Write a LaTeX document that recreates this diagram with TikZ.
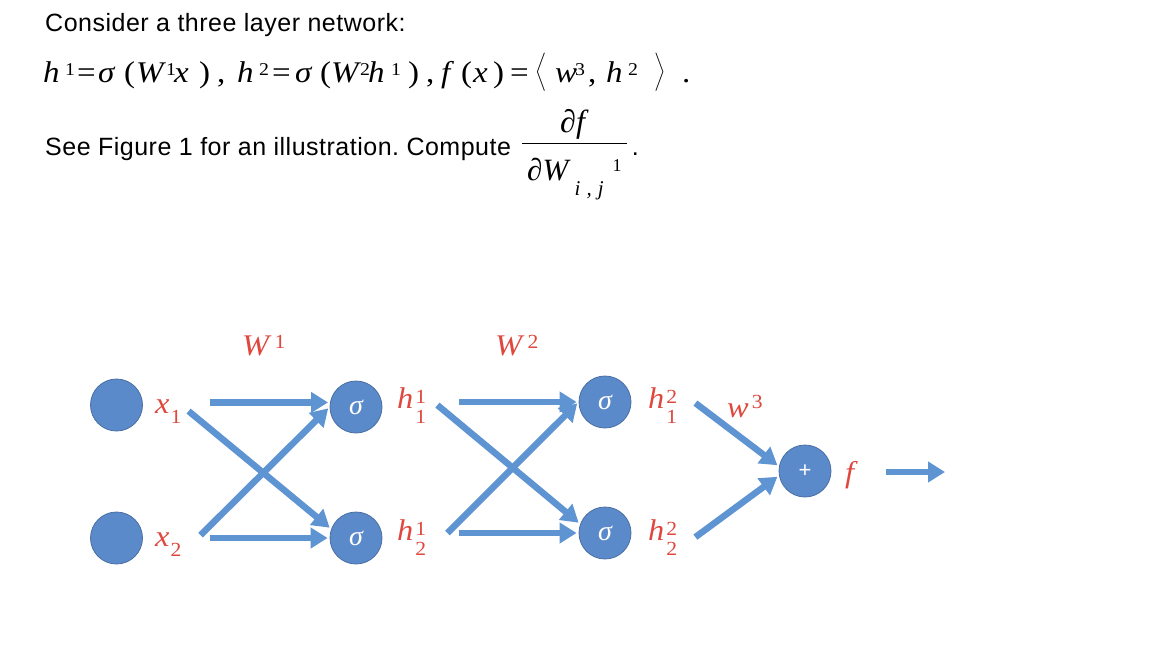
\RequirePackage{fix-cm}
\documentclass[tikz,border=0pt]{standalone}
\usepackage{fontspec}
\setmainfont{Liberation Serif}
\setsansfont{Liberation Sans}[LetterSpace=2]
\newfontfamily\eqfont{Liberation Serif}[FakeStretch=1.1]
\newfontfamily\labfont{Liberation Serif}[FakeStretch=1.08]
\usetikzlibrary{arrows.meta}
\definecolor{nblue}{RGB}{91,138,203}
\definecolor{ablue}{RGB}{95,148,210}
\definecolor{lred}{RGB}{222,72,62}
% one glyph in a box of fixed advance
\newcommand\g[2]{\makebox[#1pt][l]{#2}}
\newcommand\eqsup[1]{\raisebox{7pt}{\fontsize{18}{20}\selectfont #1}}
\newcommand\tallangle[1]{\scalebox{1.4}[1.28]{$\left#1\vcenter to 40pt{}\right.$}}
\newcommand\scr[1]{{\fontsize{20}{22}\selectfont\upshape #1}}
\newcommand\lsup[3]{\textit{#1}\kern3pt\raisebox{#2}{\scr{#3}}}
\newcommand\lsub[2]{\textit{#1}\kern1pt\raisebox{-10pt}{\scr{#2}}}
\newcommand\lboth[3]{\textit{#1}\kern2pt\rlap{\raisebox{5pt}{\scr{#2}}}\raisebox{-15pt}{\scr{#3}}}
\frenchspacing

\begin{document}
\begin{tikzpicture}[x=1pt,y=-1pt,line cap=butt,
    neuron/.style={circle,fill=nblue,draw=nblue!80!black,line width=0.8pt,minimum size=52pt,inner sep=0pt,text=white,font=\fontsize{28}{30}\selectfont\itshape},
    lab/.style={anchor=base west,inner sep=0pt,text=lred,font=\labfont\fontsize{30}{32}\selectfont},
    conn/.style={draw=ablue,line width=6.5pt,-{Triangle[length=17pt,width=20pt]},shorten >=2pt}]
        \useasboundingbox (0,0) rectangle (1172,648);
        % question text
        \node[anchor=base west,inner sep=0pt,font=\sffamily\fontsize{25}{30}\selectfont] (intro) at (45,31) {Consider a three layer network:};
        \node[anchor=base west,inner sep=0pt,font=\eqfont\fontsize{30}{36}\selectfont] (eqn) at (43,82)
            {\g{22}{\textit{h}}\g{12}{\eqsup{1}}\g{21}{=}\g{26}{\textit{σ}}\g{12}{(}\g{30}{\textit{W}}\g{8}{\eqsup{1}}\g{25}{\textit{x}}\g{18}{)}\g{20}{,}%
             \g{22}{\textit{h}}\g{13}{\eqsup{2}}\g{23}{=}\g{25}{\textit{σ}}\g{11}{(}\g{29}{\textit{W}}\g{8}{\eqsup{2}}\g{23}{\textit{h}}\g{17}{\eqsup{1}}\g{18}{)}\g{15}{,}%
             \g{20}{\textit{f}}\g{12}{(}\g{20}{\textit{x}}\g{17}{)}\g{25}{=}\g{20}{\tallangle\langle}\g{20}{\textit{w}}\g{13}{\eqsup{3}}\g{18}{,}\g{22}{\textit{h}}\g{26}{\eqsup{2}}\g{28}{\tallangle\rangle}.};
        \node[anchor=base west,inner sep=0pt,font=\sffamily\fontsize{25}{30}\selectfont] (task) at (45,155)
            {See Figure 1 for an illustration. Compute\hspace{10pt}\raisebox{6pt}{$\displaystyle\frac{\hbox{\rmfamily\fontsize{32}{34}\selectfont ∂\textit{f}}}{\hbox{\rmfamily\fontsize{31}{34}\selectfont\hspace{5pt}\rule{0pt}{36pt}∂\textit{W}\hspace{4pt}\raisebox{-15pt}{\fontsize{21}{22}\selectfont\itshape i\hspace{6pt},\hspace{6pt}j}\hspace{9pt}\raisebox{9pt}{\fontsize{18}{20}\selectfont 1}\hspace{5pt}}}$}\hspace{4pt}.};
        % neurons
        \node[neuron] (x1) at (116.5,405) {};
        \node[neuron] (x2) at (116.5,538) {};
        \foreach \n/\x/\y in {s11/356/407,s12/356/538,s21/605/402,s22/605/533}
        \node[neuron] (\n) at (\x,\y) {σ};
        \node[neuron,font=\sffamily\fontsize{22}{24}\selectfont] (sum) at (805,471) {+};
        % labels
        \node[lab] (lx1) at (155,413) {\lsub{x}{1}};
        \node[lab] (lx2) at (155,546) {\lsub{x}{2}};
        \node[lab] (lh11) at (397,408) {\lboth{h}{1}{1}};
        \node[lab] (lh12) at (397,540) {\lboth{h}{1}{2}};
        \node[lab] (lh21) at (648,408) {\lboth{h}{2}{1}};
        \node[lab] (lh22) at (648,540) {\lboth{h}{2}{2}};
        \node[lab] (lw1) at (242,355) {\lsup{W}{7pt}{1}};
        \node[lab] (lw2) at (495,355) {\lsup{W}{7pt}{2}};
        \node[lab] (lw3) at (727,417) {\lsup{w}{9pt}{3}};
        \node[lab] (lf) at (845,482) {\textit{f}};
        % W^1
        \draw[conn] ([xshift=28pt]lx1.east |- s11.170) -- (s11.170);
        \draw[conn] ([xshift=7pt]lx1.east) -- (s12.160);
        \draw[conn] ([xshift=19pt,yshift=9pt]lx2.east) -- (s11.west);
        \draw[conn] ([xshift=28pt]lx2.east |- s12.west) -- (s12.west);
        % W^2
        \draw[conn] ([xshift=33pt]lh11.east |- s21.west) -- (s21.west);
        \draw[conn] ([xshift=11pt]lh11.east) -- (s22.160);
        \draw[conn] ([xshift=21pt,yshift=4pt]lh12.east) -- (s21.west);
        \draw[conn] ([xshift=33pt]lh12.east |- s22.west) -- (s22.west);
        % w^3 and output
        \draw[conn] ([xshift=18pt,yshift=2pt]lh21.east) -- (sum.170);
        \draw[conn] ([xshift=18pt]lh22.east) -- (sum.190);
        \coordinate (out) at (945,472);
        \draw[conn,shorten >=0pt] ([xshift=28pt]lf.east |- out) -- (out);
      \end{tikzpicture}
\end{document}
